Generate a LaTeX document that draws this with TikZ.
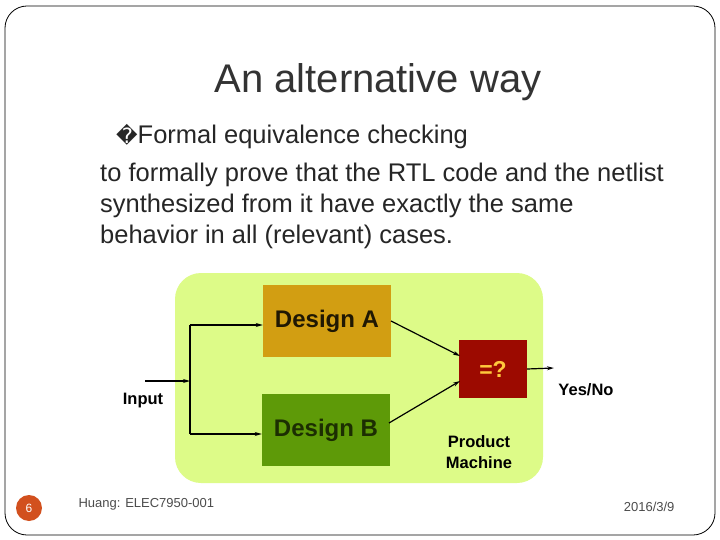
\documentclass[tikz,border=0pt]{standalone}
\usepackage{fontspec}
\setmainfont{Liberation Sans}
\newfontfamily\dvs{DejaVu Sans}
\usetikzlibrary{arrows.meta}
\definecolor{bg}{HTML}{DDFB88}
\definecolor{da}{HTML}{D29E12}
\definecolor{db}{HTML}{5E9A08}
\definecolor{eq}{HTML}{9C0A00}
\definecolor{pg}{HTML}{D2501E}
\tikzset{blk/.style={draw=none,minimum width=128pt,minimum height=72pt,font=\bfseries\fontsize{24}{27}\selectfont},
lbl/.style={font=\bfseries\fontsize{16.5}{21}\selectfont,align=center},
con/.style={-{Stealth[length=7pt,width=4pt]},line width=1.2pt}}
\begin{document}
\begin{tikzpicture}[x=1pt,y=-1pt]
\useasboundingbox (0,0) rectangle (720,540);
\fill[white] (0,0) rectangle (720,540);
\draw[line width=0.8pt,rounded corners=22pt] (5,6) rectangle (715,535);
\node[font=\fontsize{40}{46}\selectfont,text=black!80] (title) at (378,82) {An alternative way};
\node[anchor=west,font=\fontsize{25.5}{30}\selectfont,text=black!85,inner sep=0pt] (b1) at (116,137) {{\dvs\fontsize{21}{24}\selectfont\char"FFFD}Formal equivalence checking};
\node[anchor=north west,align=left,inner sep=0pt,font=\fontsize{25.5}{31}\selectfont,text=black!85] (b2) at (100,163) {to formally prove that the RTL code and the netlist\\ synthesized from it have exactly the same\\ behavior in all (relevant) cases.};
\fill[bg,rounded corners=26pt] (175,273) rectangle (543,483);
\node[blk,fill=da,text=black!85!da] (A) at (327,321) {Design A};
\node[blk,fill=db,text=black!70!db] (B) at (326,430) {Design B};
\node[draw=none,fill=eq,minimum width=68pt,minimum height=58pt,text={rgb,255:red,255;green,200;blue,60},font=\bfseries\fontsize{23}{27}\selectfont] (E) at (493,369) {=?};
\coordinate (in) at (145,381);
\coordinate (j) at (190,381);
\coordinate (ja) at (190,325);
\coordinate (jb) at (190,434);
\coordinate (out) at (554,368);
\draw[con] (in) -- (j);
\draw[line width=1.2pt] (ja) -- (jb);
\draw[con] (ja) -- (A.west |- ja);
\draw[con] (jb) -- (B.west |- jb);
\draw[con] (391,321) -- (460,356);
\draw[con] (389,423) -- (460,381);
\draw[con] (E.east) -- (out);
\node[lbl] (il) at (143,401) {Input};
\node[lbl] (yn) at (586,390) {Yes/No};
\node[lbl] (pm) at (479,452) {Product\\Machine};
\fill[pg] (29,508) circle (13);
\node[text=white,font=\fontsize{12}{14}\selectfont] (pn) at (29,508) {6};
\node[anchor=west,text=black!70,font=\fontsize{13}{15}\selectfont] (f1) at (75,504) {Huang: ELEC7950-001};
\node[anchor=east,text=black!70,font=\fontsize{13}{15}\selectfont] (f2) at (678,507) {2016/3/9};
\end{tikzpicture}
\end{document}
